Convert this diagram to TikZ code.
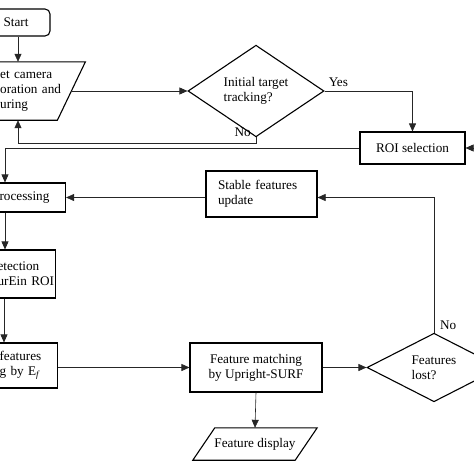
\documentclass[tikz,border=0pt]{standalone}
\usepackage{fontspec}
\setmainfont{Liberation Serif}
\usetikzlibrary{shapes.geometric,arrows.meta}

\begin{document}
\begin{tikzpicture}[x=1pt,y=-1pt,
    every node/.style={font=\fontsize{13.2}{15}\selectfont},
    block/.style={draw, line width=1.1pt, rectangle, inner sep=3pt, align=center},
    cut/.style={block, anchor=west, align=left, inner xsep=2pt, text width=#1},
    para/.style={draw=none, inner sep=3pt, append after command={\pgfextra{%
        \draw[line width=1.1pt] ([xshift=#1]\tikzlastnode.north west) -- ([xshift=#1]\tikzlastnode.north east)
          -- ([xshift=-#1]\tikzlastnode.south east) -- ([xshift=-#1]\tikzlastnode.south west) -- cycle;}}},
    decision/.style={draw, diamond, line width=1.1pt, inner sep=0pt, align=left},
    arr/.style={draw=black!85, line width=0.6pt, -{Triangle[length=8pt,width=7pt]}},
    lbl/.style={inner sep=1pt}]
        \useasboundingbox (0,0) rectangle (474,474);
        \clip (0,0) rectangle (474,474);

        % Left column
        \node[block, rounded corners=5pt, minimum width=68pt, minimum height=27pt] (start) at (16,22.5) {Start};
        \node[para=14pt, anchor=west, align=left, inner xsep=20pt, text width=51pt, minimum height=58pt] (capture) at (-20,91) {\mbox{et camera}\\\mbox{oration and}\\uring};
        \node[cut=64pt, minimum height=29pt] (pre) at (-3,197.5) {rocessing};
        \node[cut=58pt, inner xsep=0pt, minimum height=48pt] (det) at (-3,274) {etection\\\mbox{urEin ROI}};
        \node[cut=56pt, minimum height=45pt] (feat) at (-3,365.5) {features\\\mbox{g by E\textsubscript{\textit{f}}}};

        % Middle and right
        \node[decision, minimum width=136pt, minimum height=56pt] (init) at (256,91) {Initial target\\tracking?};
        \node[block, minimum width=105pt, minimum height=32pt] (roi) at (412.5,148) {ROI selection};
        \node[block, align=left, text width=87pt, inner xsep=12pt, minimum height=46pt] (stable) at (261.5,194) {Stable features\\update};
        \node[block, minimum width=132pt, minimum height=49pt] (match) at (256,367.5) {Feature matching\\by Upright-SURF};
        \node[decision, minimum width=134pt, minimum height=55pt] (lost) at (434,367.5) {Features\\lost?};
        \node[para=11pt, minimum width=102pt, minimum height=32pt] (display) at (255,444) {Feature display};

        \coordinate (noturn) at (18,143);

        % Connectors
        \draw[arr] (start.south -| noturn) -- (noturn |- capture.north);
        \draw[arr] (capture.east) -- (init.west);
        \draw[arr] (init.east) -| (roi.north);
        \draw[arr] (init.south) |- (noturn) -- (noturn |- capture.south);
        \draw[arr] (roi.west) -| ([xshift=8pt]pre.north west);
        \draw[arr] ([xshift=8pt]pre.south west) -- ([xshift=8pt]det.north west);
        \draw[arr] ([xshift=7pt]det.south west) -- ([xshift=7pt]feat.north west);
        \draw[arr] (feat.east |- match.west) -- (match.west);
        \draw[arr] (match.east) -- (lost.west);
        \draw[arr] (match.south) -- (display.north);
        \draw[arr] (lost.north) |- (stable.east |- pre.east);
        \draw[arr] (stable.west |- pre.east) -- (pre.east);
        \draw[arr] (lost.east) -- ++(12,0) |- (roi.east);

        % Branch labels
        \node[lbl, anchor=south west] (yes) at ([xshift=3pt,yshift=3pt]init.east) {Yes};
        \node[lbl, anchor=east] (noinit) at (252,132) {No};
        \node[lbl, anchor=west] (nolost) at (439,325) {No};
\end{tikzpicture}
\end{document}
